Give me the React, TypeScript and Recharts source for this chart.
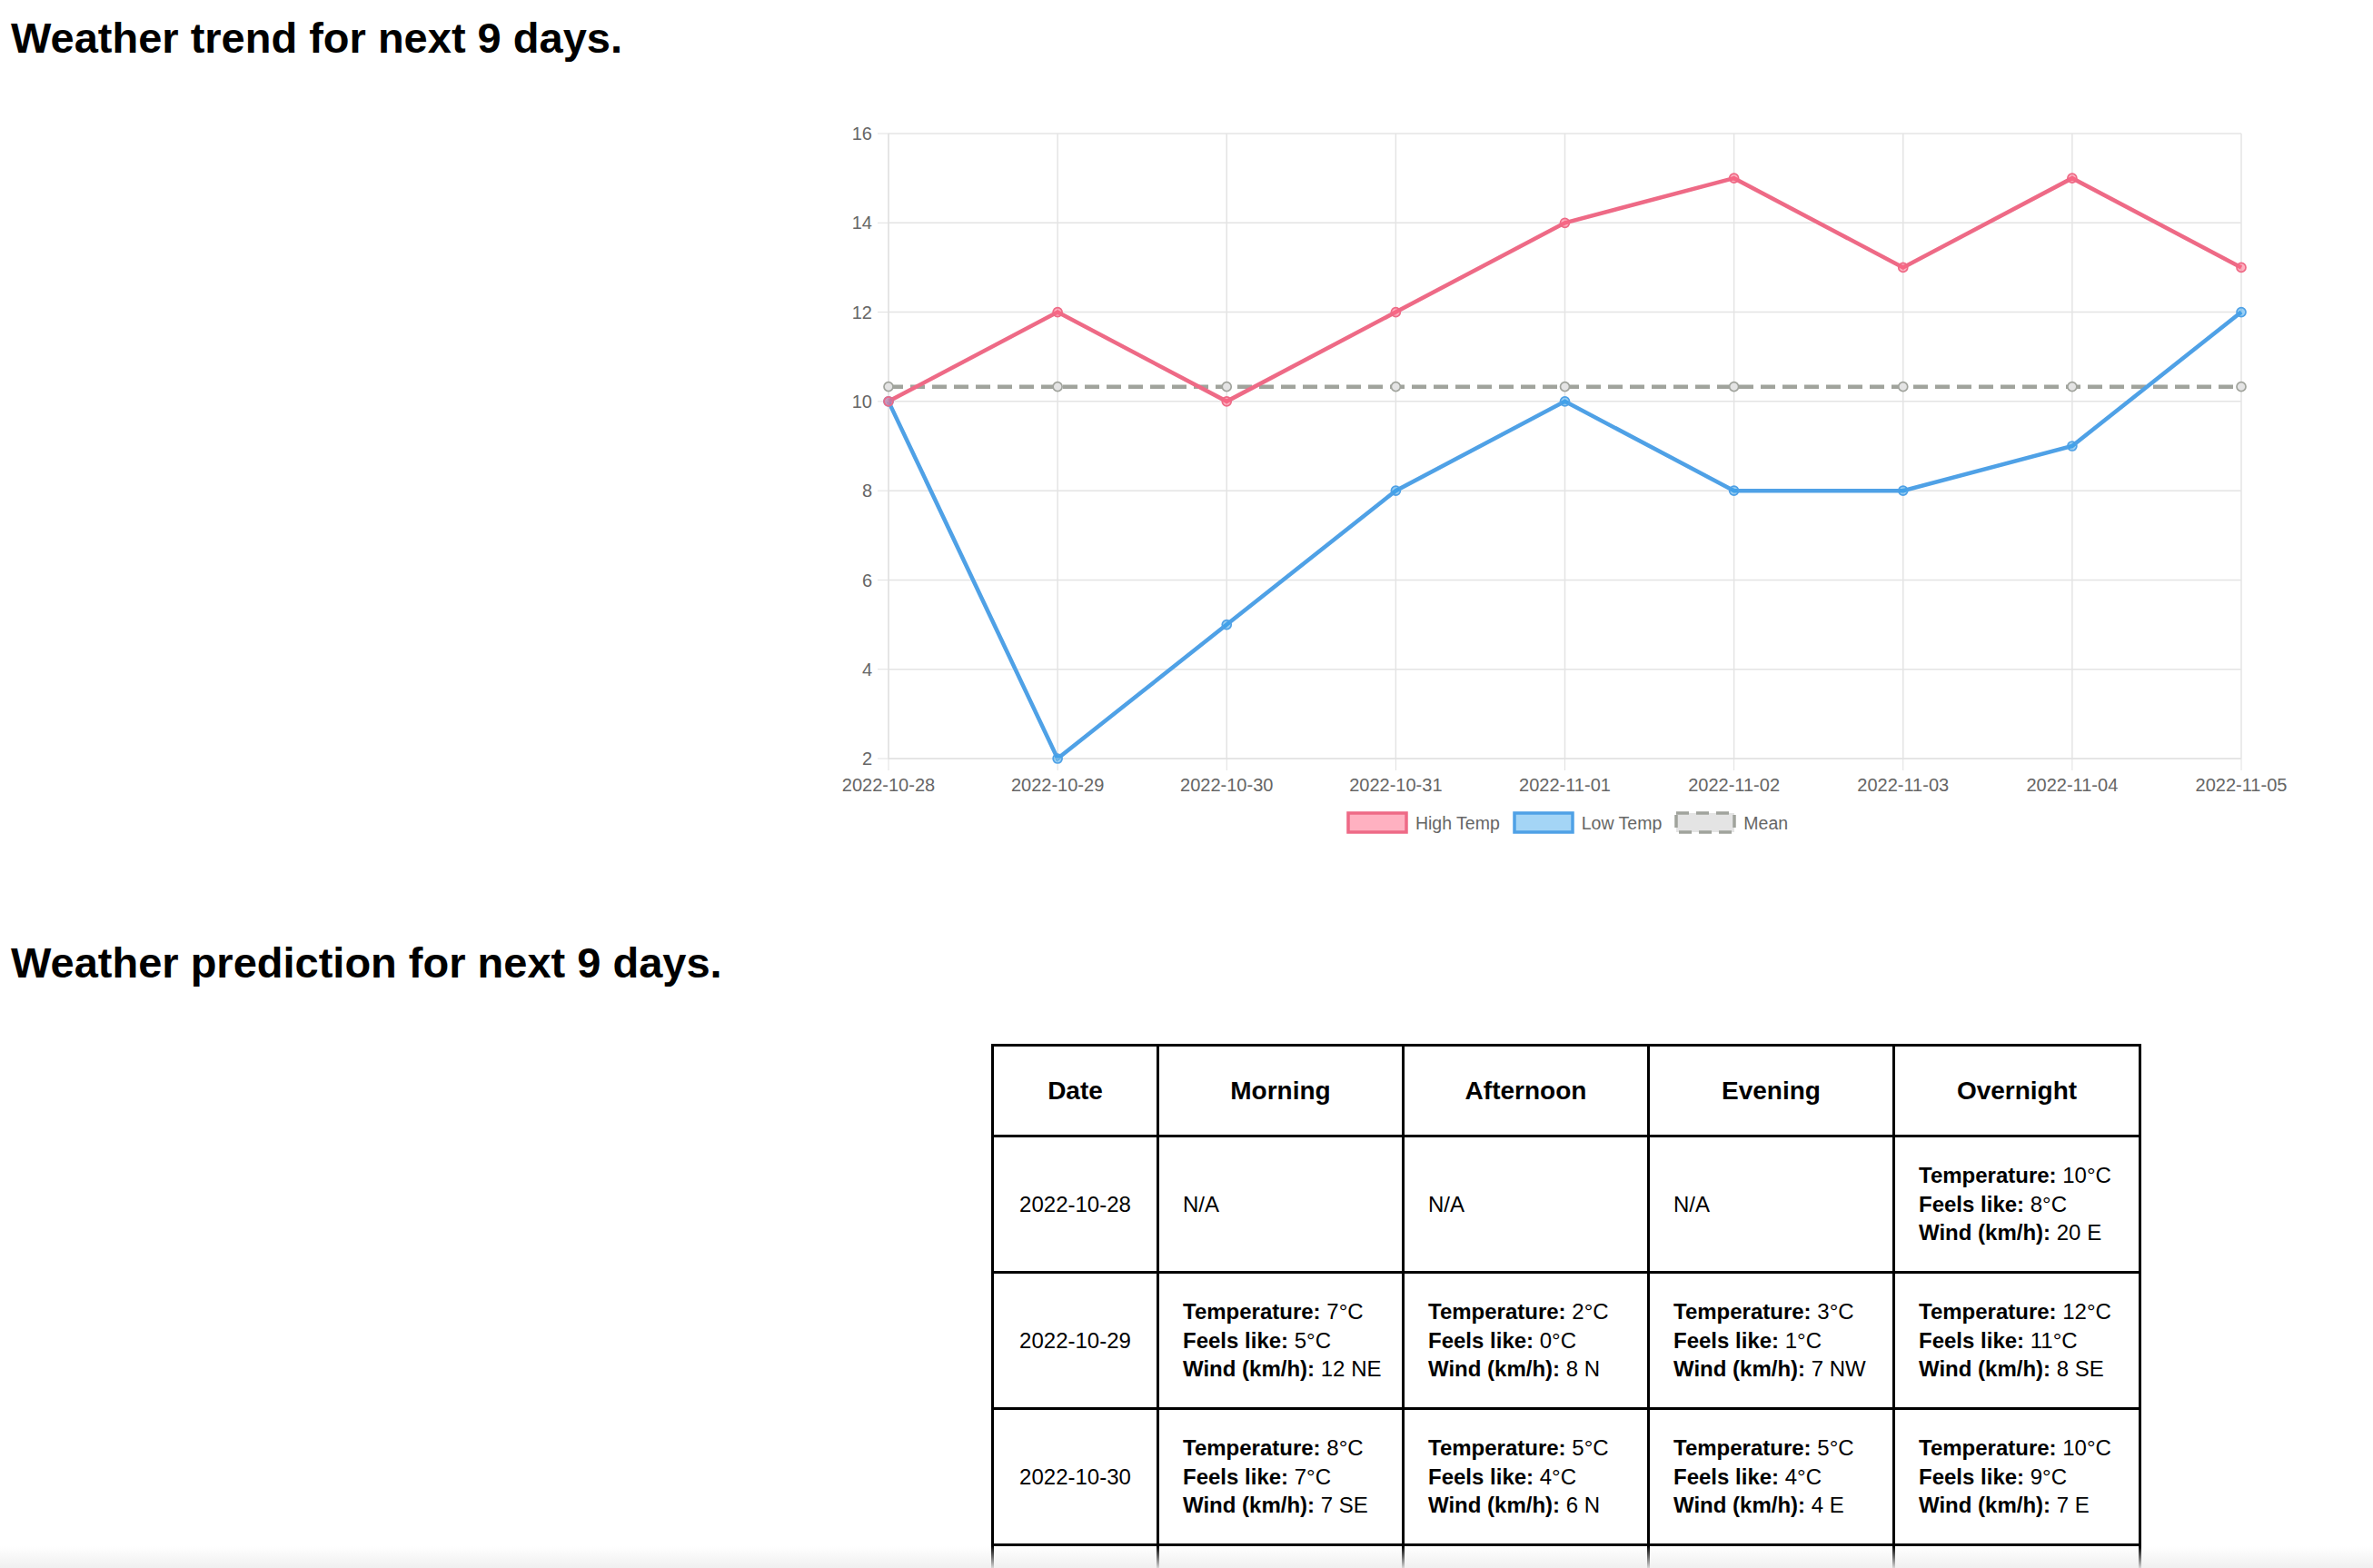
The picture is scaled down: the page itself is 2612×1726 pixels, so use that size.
import React from 'react';
import { LineChart, Line, XAxis, YAxis, CartesianGrid, Legend } from 'recharts';

const dates = [
  '2022-10-28',
  '2022-10-29',
  '2022-10-30',
  '2022-10-31',
  '2022-11-01',
  '2022-11-02',
  '2022-11-03',
  '2022-11-04',
  '2022-11-05',
];
const highTemps = [10, 12, 10, 12, 14, 15, 13, 15, 13];
const lowTemps = [10, 2, 5, 8, 10, 8, 8, 9, 12];
const meanTemps = [10.33, 10.33, 10.33, 10.33, 10.33, 10.33, 10.33, 10.33, 10.33];
const yTicks = [2, 4, 6, 8, 10, 12, 14, 16];

// table rows: [temperature, feels like, wind] or null for N/A
const tableDates = ['2022-10-28', '2022-10-29', '2022-10-30'];
const morning = [null, [7, 5, '12 NE'], [8, 7, '7 SE']];
const afternoon = [null, [2, 0, '8 N'], [5, 4, '6 N']];
const evening = [null, [3, 1, '7 NW'], [5, 4, '4 E']];
const overnight = [[10, 8, '20 E'], [12, 11, '8 SE'], [10, 9, '7 E']];

const FONT = '"Liberation Sans", Arial, Helvetica, sans-serif';
const RED = '#ee6a86';
const BLUE = '#4fa1e6';
const GRAY = '#a0a39c';

const data = dates.map((d, i) => ({
  date: d,
  high: highTemps[i],
  low: lowTemps[i],
  mean: meanTemps[i],
}));

const legendItems = [
  { label: 'High Temp', stroke: RED, fill: 'rgba(255,99,132,0.5)', dash: undefined },
  { label: 'Low Temp', stroke: BLUE, fill: 'rgba(54,162,235,0.45)', dash: undefined },
  { label: 'Mean', stroke: GRAY, fill: '#e4e4e4', dash: '14 8' },
];

const renderLegend = () => (
  <div style={{ textAlign: 'center', fontFamily: FONT, fontSize: 19.5, color: '#666' }}>
    {legendItems.map((it) => (
      <span key={it.label} style={{ display: 'inline-flex', alignItems: 'center', margin: '0 7px' }}>
        <svg width={70} height={26} style={{ marginRight: 6 }}>
          <rect
            x={2}
            y={2}
            width={64}
            height={21}
            fill={it.fill}
            stroke={it.stroke}
            strokeWidth={3.5}
            strokeDasharray={it.dash}
          />
        </svg>
        {it.label}
      </span>
    ))}
  </div>
);

const Cell = ({ v }: { v: any }) => {
  if (!v) return <span>N/A</span>;
  return (
    <div>
      <div><b>Temperature:</b> {v[0]}°C</div>
      <div><b>Feels like:</b> {v[1]}°C</div>
      <div><b>Wind (km/h):</b> {v[2]}</div>
    </div>
  );
};

const thStyle: React.CSSProperties = {
  border: '3px solid #000',
  fontWeight: 'bold',
  fontSize: 28,
  textAlign: 'center',
  padding: 0,
};
const tdStyle: React.CSSProperties = {
  border: '3px solid #000',
  fontSize: 24,
  lineHeight: '31.7px',
  padding: '0 0 0 26px',
  verticalAlign: 'middle',
  textAlign: 'left',
};

const App = () => {
  return (
    <div
      style={{
        position: 'absolute',
        left: 0,
        top: 0,
        width: 2612,
        height: 1726,
        overflow: 'hidden',
        background: '#fff',
        fontFamily: FONT,
      }}
    >
      <div
        style={{ position: 'absolute', left: 12, top: 18, fontSize: 47, fontWeight: 'bold', lineHeight: '47px', whiteSpace: 'nowrap' }}
      >
        Weather trend for next 9 days.
      </div>

      <div style={{ position: 'absolute', left: 900, top: 120 }}>
        <LineChart width={1660} height={820} data={data} margin={{ top: 27, right: 93, left: 18, bottom: 65 }}>
          <CartesianGrid stroke="#e4e4e4" strokeWidth={1.5} />
          <XAxis
            dataKey="date"
            height={40}
            stroke="#e0e0e0"
            tickSize={13}
            tickMargin={9}
            tick={{ fill: '#666', fontSize: 20, fontFamily: FONT }}
            interval={0}
          />
          <YAxis
            width={60}
            domain={[2, 16]}
            ticks={yTicks}
            stroke="#e0e0e0"
            tickSize={12}
            tickMargin={6}
            tick={{ fill: '#666', fontSize: 20, fontFamily: FONT }}
          />
          <Legend
            verticalAlign="middle"
            align="center"
            layout="horizontal"
            content={renderLegend}
            wrapperStyle={{ left: 0, top: 773, width: 1650 }}
          />
          <Line
            dataKey="mean"
            name="Mean"
            stroke={GRAY}
            strokeWidth={4.5}
            strokeDasharray="16 8"
            dot={{ r: 5, fill: '#e4e4e4', stroke: GRAY, strokeWidth: 1.7, strokeDasharray: '' }}
            isAnimationActive={false}
          />
          <Line
            dataKey="low"
            name="Low Temp"
            stroke={BLUE}
            strokeWidth={4.5}
            dot={{ r: 5, fill: 'rgba(54,162,235,0.5)', stroke: BLUE, strokeWidth: 1.7 }}
            isAnimationActive={false}
          />
          <Line
            dataKey="high"
            name="High Temp"
            stroke={RED}
            strokeWidth={4.5}
            dot={{ r: 5, fill: 'rgba(255,99,132,0.5)', stroke: RED, strokeWidth: 1.7 }}
            isAnimationActive={false}
          />
        </LineChart>
      </div>

      <div
        style={{ position: 'absolute', left: 12, top: 1036, fontSize: 47, fontWeight: 'bold', lineHeight: '47px', whiteSpace: 'nowrap' }}
      >
        Weather prediction for next 9 days.
      </div>

      <table
        style={{
          position: 'absolute',
          left: 1091,
          top: 1149,
          borderCollapse: 'collapse',
          tableLayout: 'fixed',
          width: 1263,
          fontFamily: FONT,
        }}
      >
        <colgroup>
          <col style={{ width: 182 }} />
          <col style={{ width: 270 }} />
          <col style={{ width: 270 }} />
          <col style={{ width: 270 }} />
          <col style={{ width: 271 }} />
        </colgroup>
        <thead>
          <tr style={{ height: 100 }}>
            <th style={thStyle}>Date</th>
            <th style={thStyle}>Morning</th>
            <th style={thStyle}>Afternoon</th>
            <th style={thStyle}>Evening</th>
            <th style={thStyle}>Overnight</th>
          </tr>
        </thead>
        <tbody>
          {tableDates.map((d, i) => (
            <tr key={d} style={{ height: 150 }}>
              <td style={{ ...tdStyle, textAlign: 'center', padding: 0 }}>{d}</td>
              <td style={tdStyle}><Cell v={morning[i]} /></td>
              <td style={tdStyle}><Cell v={afternoon[i]} /></td>
              <td style={tdStyle}><Cell v={evening[i]} /></td>
              <td style={tdStyle}><Cell v={overnight[i]} /></td>
            </tr>
          ))}
          {/* next row starts at the bottom edge of the page; its content is out of view */}
          <tr style={{ height: 150 }}>
            <td style={tdStyle} />
            <td style={tdStyle} />
            <td style={tdStyle} />
            <td style={tdStyle} />
            <td style={tdStyle} />
          </tr>
        </tbody>
      </table>

      <div
        style={{
          position: 'absolute',
          left: 0,
          top: 1702,
          width: 2612,
          height: 24,
          background: 'linear-gradient(rgba(240,240,240,0), rgba(238,238,238,0.9))',
        }}
      />
    </div>
  );
};

export default App;
